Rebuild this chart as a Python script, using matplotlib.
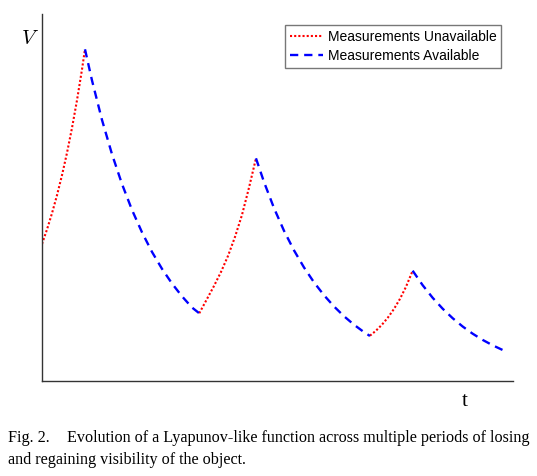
import matplotlib
matplotlib.use("Agg")
import matplotlib.pyplot as plt

# values (arbitrary units, t along x, V along y)
t_off1 = [0, 5, 10, 15, 20, 25, 30, 35, 40, 43]
v_off1 = [137, 151.5, 167.7, 185.7, 205.8, 228.1, 253, 280.7, 311.5, 331.7]
t_on1 = [43, 50, 60, 70, 80, 90, 100, 110, 120, 130, 140, 150, 157.3]
v_on1 = [331.7, 300.6, 261.1, 226.8, 197.0, 171.1, 148.7, 129.1, 112.2, 97.5, 84.7, 73.5, 67.7]
t_off2 = [157.3, 165, 172, 179, 186, 193, 200, 207, 214]
v_off2 = [67.7, 82, 95, 109, 125, 144, 166, 193.2, 222.7]
t_on2 = [214, 222, 232, 242, 252, 262, 272, 282, 292, 302, 312, 322, 328]
v_on2 = [222.7, 199.1, 173.0, 150.3, 130.7, 113.6, 98.7, 85.8, 74.6, 64.8, 56.3, 48.9, 45]
t_off3 = [328, 334, 340, 346, 352, 358, 364, 370.7]
v_off3 = [45.3, 50.3, 56.3, 63.5, 72.0, 82.1, 94.1, 110.3]
t_on3 = [370.7, 380.7, 390.7, 400.7, 410.7, 420.7, 430.7, 440.7, 450.7, 460.7, 464.7]
v_on3 = [110.3, 95.8, 83.2, 72.3, 62.8, 54.5, 47.3, 41.1, 35.7, 31.0, 29.3]

off_segs = [(t_off1, v_off1), (t_off2, v_off2), (t_off3, v_off3)]
on_segs = [(t_on1, v_on1), (t_on2, v_on2), (t_on3, v_on3)]

plt.rcParams['mathtext.fontset'] = 'cm'
fig = plt.figure(figsize=(5.37, 4.76), dpi=100)
ax = fig.add_axes([0.0782, 0.1996, 0.877, 0.771])

for i, (t, v) in enumerate(off_segs):
    ax.plot(t, v, color='#ff0000', lw=1.5, linestyle=(0, (1, 1)),
            label='Measurements Unavailable' if i == 0 else None)
for i, (t, v) in enumerate(on_segs):
    ax.plot(t, v, color='#0000ff', lw=1.7, linestyle=(0, (3.5, 2.5)),
            label='Measurements Available' if i == 0 else None)

ax.set_xlim(0, 471)
ax.set_ylim(0, 367)
ax.set_xticks([]); ax.set_yticks([])
for s in ['top', 'right']:
    ax.spines[s].set_visible(False)
for s in ['left', 'bottom']:
    ax.spines[s].set_color('#333333')
    ax.spines[s].set_linewidth(1.0)

handles, labels = ax.get_legend_handles_labels()
leg = ax.legend(handles, labels, loc='upper right', bbox_to_anchor=(0.975, 0.97),
                prop={'family': 'Liberation Sans', 'size': 10},
                frameon=True, fancybox=False, handlelength=2.4, handletextpad=0.3,
                borderpad=0.35, labelspacing=0.35, borderaxespad=0)
leg.get_frame().set_edgecolor('#555555')
leg.get_frame().set_linewidth(1.0)

fig.text(30 / 537, 1 - 38 / 476, '$V$', fontsize=15, ha='center', va='center')
fig.text(465 / 537, 1 - 402 / 476, 't', fontsize=15, family='Liberation Serif',
         ha='center', va='center')
cap = dict(fontsize=11.6, family='Liberation Serif', ha='left', va='center')
fig.text(8 / 537, 1 - 438 / 476, 'Fig. 2.', **cap)
fig.text(67 / 537, 1 - 438 / 476,
         'Evolution of a Lyapunov-like function across multiple periods of losing', **cap)
fig.text(8 / 537, 1 - 460 / 476, 'and regaining visibility of the object.', **cap)

fig.savefig('out.png', dpi=100)
